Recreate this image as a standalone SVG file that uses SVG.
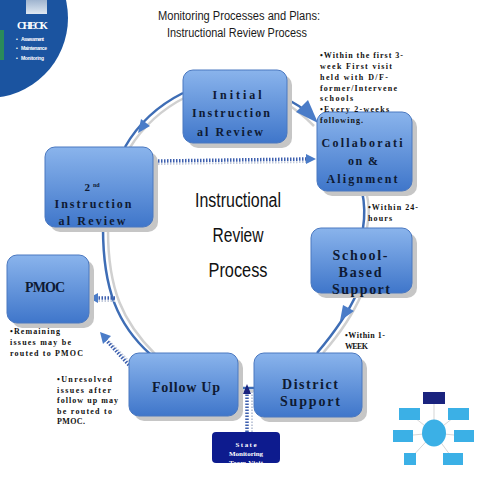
<svg xmlns="http://www.w3.org/2000/svg" width="480" height="480" viewBox="0 0 480 480">
<defs>
<linearGradient id="g" x1="0" y1="0" x2="0" y2="1"><stop offset="0" stop-color="#8ab4ec"/><stop offset="1" stop-color="#3f76ca"/></linearGradient>
<linearGradient id="tab" x1="0" y1="0" x2="0" y2="1"><stop offset="0" stop-color="#9fb4cf"/><stop offset="1" stop-color="#dfe8f2"/></linearGradient>
<clipPath id="smclip"><rect x="212" y="432" width="68" height="31" rx="4"/></clipPath>
<style>
.box{fill:url(#g);stroke:#4a78c0;stroke-width:1}
.sh{fill:#c6c6c6}
.nt{font-family:"Liberation Serif",serif;font-weight:bold;fill:#0e1a33;text-anchor:middle}
.an{font-family:"Liberation Serif",serif;font-weight:bold;font-size:8px;fill:#111}
.ln{fill:none;stroke:#3e6db5;stroke-width:2.5}
.lg{fill:none;stroke:#d0d0d0;stroke-width:2.5}
.dt{fill:none;stroke:#3d5fae;stroke-width:3.5;stroke-dasharray:1.5 1.5}
.dg{fill:none;stroke:#c2cadb;stroke-width:2;stroke-dasharray:1.5 1.5}
.ah{fill:#4a7cc8}
.big{font-family:"Liberation Sans",Arial,sans-serif;font-size:20px;fill:#111;text-anchor:middle}
.tb{fill:#3bb0e6}
.tl{stroke:#bbbbbb;stroke-width:0.6;fill:none}
</style>
</defs>
<rect width="480" height="480" fill="#ffffff"/>

<!-- top-left badge -->
<g id="check-badge">
<circle cx="-12" cy="18" r="80" fill="#1b54a0"/>
<rect x="26" y="0" width="21" height="14" fill="url(#tab)"/>
<rect x="0" y="30" width="4" height="30" fill="#2a8a5a"/>
<text x="17" y="29" font-family="Liberation Serif,serif" font-weight="bold" font-size="10.5" fill="#ffffff" textLength="31">CHECK</text>
<g font-family="Liberation Sans,Arial,sans-serif" font-weight="bold" font-size="5" fill="#ffffff">
<text x="16" y="41">•</text><text x="21" y="41" textLength="23">Assessment</text>
<text x="16" y="50">•</text><text x="21" y="50" textLength="26">Maintenance</text>
<text x="16" y="60">•</text><text x="21" y="60" textLength="23">Monitoring</text>
</g>
</g>

<!-- title -->
<g id="title" font-family="Liberation Sans,Arial,sans-serif" font-size="12.5" fill="#1a1a1a">
<text x="158" y="20" textLength="162" lengthAdjust="spacingAndGlyphs">Monitoring Processes and Plans:</text>
<text x="167" y="37" textLength="140" lengthAdjust="spacingAndGlyphs">Instructional Review Process</text>
</g>

<!-- center text -->
<g id="center-label">
<text class="big" x="238" y="207" textLength="86" lengthAdjust="spacingAndGlyphs">Instructional</text>
<text class="big" x="238" y="242" textLength="51" lengthAdjust="spacingAndGlyphs">Review</text>
<text class="big" x="238" y="277" textLength="59" lengthAdjust="spacingAndGlyphs">Process</text>
</g>

<!-- connectors -->
<g id="connectors">
<!-- 2nd -> Initial arc -->
<path class="lg" d="M129,149 Q150,115 186,97"/>
<path class="ln" d="M125,147 Q145,112 183,93"/>
<polygon class="ah" points="138,133 141,119 150,126"/>
<!-- Initial -> Collaboration -->
<path class="lg" d="M287,104 Q300,112 314,126"/>
<path class="ln" d="M287,99 Q300,106 310,114"/>
<polygon class="ah" points="318,123 296,112 308,100"/>
<!-- Collaboration -> School -->
<path class="lg" d="M366,191 Q371,210 367,228"/>
<path class="ln" d="M362,191 Q366,210 363,228"/>
<!-- School -> District -->
<path class="lg" d="M362,293 Q350,322 323,353"/>
<path class="ln" d="M357,293 Q345,320 317,353"/>
<polygon class="ah" points="340,321 343,305 354,311"/>
<!-- District -> Follow Up -->
<path class="lg" d="M238,391 L254,391"/>
<path class="ln" d="M238,388 L254,388"/>
<!-- Follow Up -> 2nd -->
<path class="lg" d="M108,230 C108,290 123,322 155,354"/>
<path class="ln" d="M103,228 C103,290 118,325 150,354"/>
<!-- dotted: 2nd -> Collaboration -->
<path class="dg" d="M158,164 L308,162"/>
<path class="dt" d="M158,161 L307,159"/>
<polygon class="ah" points="316,159 306,154 306,164" fill="#6f9ad8"/>
<!-- dotted: arc -> PMOC -->
<path class="dg" d="M115,301 L98,301"/>
<path class="dt" d="M115,298 L97,298"/>
<polygon class="ah" points="89,298 98,293 98,303"/>
<!-- dotted: Follow Up -> PMOC -->
<path class="dg" d="M142,374 L108,340"/>
<path class="dt" d="M139,376 L106,340"/>
<polygon class="ah" points="100,332 111,336 103,344"/>
<!-- dotted: State Monitoring -> Follow Up -->
<path class="dg" d="M252,432 L252,392"/>
<path class="dt" d="M247,432 L247,392"/>
<polygon points="247,384 243,394 251,394" fill="#1a237e"/>
</g>

<!-- nodes -->
<g id="node-initial">
<rect class="sh" x="188" y="75" width="104" height="73" rx="10"/>
<rect class="box" x="183" y="70" width="104" height="73" rx="10"/>
<text class="nt" font-size="12" x="237" y="99" textLength="49">Initial</text>
<text class="nt" font-size="12" x="231" y="117" textLength="78">Instruction</text>
<text class="nt" font-size="12" x="230" y="136" textLength="66">al Review</text>
</g>

<g id="node-collaboration">
<rect class="sh" x="322" y="117" width="95" height="79" rx="10"/>
<rect class="box" x="317" y="112" width="95" height="79" rx="10"/>
<text class="nt" font-size="12" x="362" y="147" textLength="81">Collaborati</text>
<text class="nt" font-size="12" x="363" y="165" textLength="30">on &amp;</text>
<text class="nt" font-size="12" x="362" y="183" textLength="71">Alignment</text>
</g>

<g id="node-second">
<rect class="sh" x="50" y="152" width="108" height="80" rx="10"/>
<rect class="box" x="45" y="147" width="108" height="80" rx="10"/>
<text class="nt" font-size="11" x="92" y="191">2<tspan font-size="6" dy="-4" dx="3">nd</tspan></text>
<text class="nt" font-size="12" x="93" y="208" textLength="77">Instruction</text>
<text class="nt" font-size="12" x="92" y="225" textLength="67">al Review</text>
</g>

<g id="node-school">
<rect class="sh" x="316" y="233" width="101" height="65" rx="10"/>
<rect class="box" x="311" y="228" width="101" height="65" rx="10"/>
<text class="nt" font-size="14" x="360" y="260" textLength="55">School-</text>
<text class="nt" font-size="14" x="360" y="277" textLength="43">Based</text>
<text class="nt" font-size="14" x="361" y="294" textLength="58">Support</text>
</g>

<g id="node-pmoc">
<rect class="sh" x="12" y="260" width="82" height="68" rx="10"/>
<rect class="box" x="7" y="255" width="82" height="68" rx="10"/>
<text class="nt" font-size="14" x="45" y="292" textLength="40">PMOC</text>
</g>

<g id="node-followup">
<rect class="sh" x="134" y="358" width="109" height="63" rx="10"/>
<rect class="box" x="129" y="353" width="109" height="63" rx="10"/>
<text class="nt" font-size="14" x="186" y="392" textLength="68">Follow Up</text>
</g>

<g id="node-district">
<rect class="sh" x="259" y="358" width="108" height="64" rx="10"/>
<rect class="box" x="254" y="353" width="108" height="64" rx="10"/>
<text class="nt" font-size="14" x="310" y="389" textLength="56">District</text>
<text class="nt" font-size="14" x="310" y="406" textLength="60">Support</text>
</g>

<g id="node-state">
<rect x="212" y="432" width="68" height="31" rx="4" fill="#0d1b8e"/>
<g clip-path="url(#smclip)" font-family="Liberation Serif,serif" font-weight="bold" font-size="7" fill="#ffffff" text-anchor="middle">
<text x="246" y="447" textLength="21">State</text>
<text x="246" y="456" textLength="34">Monitoring</text>
<text x="246" y="465" textLength="34">Team Visit</text>
</g>
</g>

<!-- annotations -->
<g id="notes">
<text class="an" x="320" y="58" textLength="83">•Within the first 3-</text>
<text class="an" x="320" y="69" textLength="72">week First visit</text>
<text class="an" x="320" y="79.5" textLength="68">held with D/F-</text>
<text class="an" x="320" y="90.5" textLength="77">former/Intervene</text>
<text class="an" x="320" y="101" textLength="33">schools</text>
<text class="an" x="320" y="112" textLength="69">•Every 2-weeks</text>
<text class="an" x="320" y="123" textLength="43">following.</text>

<text class="an" x="368" y="210" textLength="50">•Within 24-</text>
<text class="an" x="368" y="221" textLength="24">hours</text>

<text class="an" x="345" y="338" textLength="40">•Within 1-</text>
<text class="an" x="345" y="349" textLength="23">WEEK</text>

<text class="an" x="10" y="334" textLength="50">•Remaining</text>
<text class="an" x="10" y="345" textLength="61">issues may be</text>
<text class="an" x="10" y="356" textLength="73">routed to PMOC</text>

<text class="an" x="57" y="382" textLength="55">•Unresolved</text>
<text class="an" x="57" y="392.5" textLength="54">issues after</text>
<text class="an" x="57" y="403" textLength="61">follow up may</text>
<text class="an" x="57" y="413.5" textLength="55">be routed to</text>
<text class="an" x="57" y="424" textLength="28">PMOC.</text>
</g>

<!-- thumbnail -->
<g id="thumbnail">
<path class="tl" d="M434,433 L434,404 M434,433 L410,414 M434,433 L458,414 M434,433 L403,436 M434,433 L464,436 M434,433 L410,459 M434,433 L453,459"/>
<rect x="423" y="392" width="22" height="12" fill="#1a237e"/>
<rect class="tb" x="399" y="408" width="21" height="12"/>
<rect class="tb" x="448" y="408" width="21" height="12"/>
<rect class="tb" x="393" y="430" width="20" height="12"/>
<rect class="tb" x="454" y="430" width="20" height="12"/>
<rect class="tb" x="404" y="453" width="12" height="12"/>
<rect class="tb" x="443" y="453" width="20" height="12"/>
<ellipse class="tb" cx="434" cy="433" rx="12" ry="13.5"/>
</g>
</svg>
